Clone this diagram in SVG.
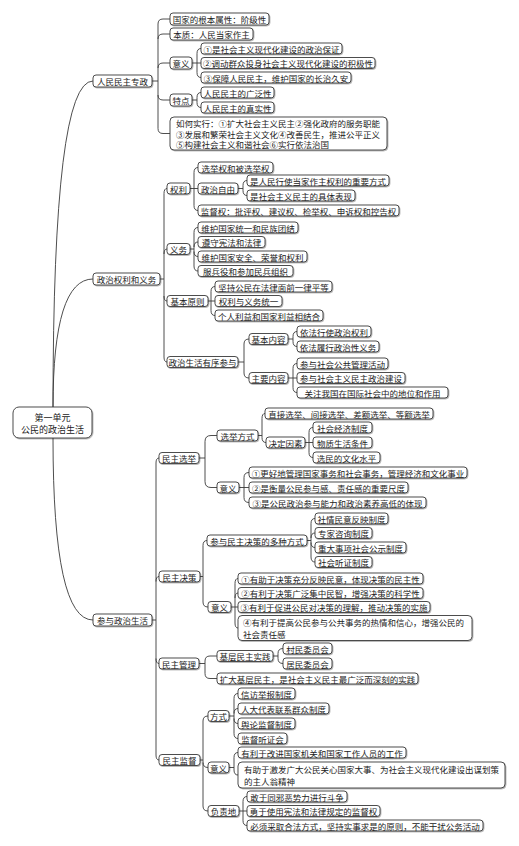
<svg xmlns="http://www.w3.org/2000/svg" width="519" height="846" viewBox="0 0 519 846">
<defs>
<filter id="sh" x="-5%" y="-20%" width="115%" height="160%"><feDropShadow dx="0.8" dy="0.8" stdDeviation="0.4" flood-color="#000" flood-opacity="0.35"/></filter>
<style>
.n rect{fill:#fff;stroke:#3a3a3a;stroke-width:0.9;filter:url(#sh)}
.n text{font-family:"Noto Sans CJK SC","Noto Sans",sans-serif;font-size:8.5px;fill:#222;text-anchor:middle;dominant-baseline:central}
.n text.l{text-anchor:start}
#links path{fill:none;stroke:#3a3a3a;stroke-width:0.9}
</style>
</defs>
<rect width="519" height="846" fill="#fff"/>
<g id="links">
<path d="M53,407 Q53,81 93,81 M53,407 Q53,279 93,279 M53,438 Q53,620 93,620"/>
<path d="M152,81 H158 M158,24 V128.5 M158,24 Q158,19 163,19 H170 M158,39 Q158,34 163,34 H170 M158,68 Q158,63 163,63 H170 M158,95 Q158,100 163,100 H170 M158,128.5 Q158,133.5 163,133.5 H170"/>
<path d="M192,63 H201 M197,53.5 V72.5 M197,53.5 Q197,48.5 201,48.5 M197,72.5 Q197,77.5 201,77.5"/>
<path d="M192,100 H197 M197,97.5 V102.5 M197,97.5 Q197,92.5 201,92.5 M197,102.5 Q197,107.5 201,107.5"/>
<path d="M160,279 H164 M164,193.5 V357 M164,193.5 Q164,188.5 167,188.5 M164,254 Q164,249 167,249 M164,296 Q164,301 167,301 M164,357 Q164,362 167,362"/>
<path d="M190,188.5 H198 M194,172.5 V205.5 M194,172.5 Q194,167.5 198,167.5 M194,205.5 Q194,210.5 198,210.5"/>
<path d="M238,188.5 H243 M243,185.5 V190.5 M243,185.5 Q243,180.5 247,180.5 M243,190.5 Q243,195.5 247,195.5"/>
<path d="M190,249 H194 M194,232.5 V266 M194,232.5 Q194,227.5 198,227.5 M194,247 Q194,242 198,242 M194,251.5 Q194,256.5 198,256.5 M194,266 Q194,271 198,271"/>
<path d="M208,301 H215 M211,291.5 V310.5 M211,291.5 Q211,286.5 215,286.5 M211,310.5 Q211,315.5 215,315.5"/>
<path d="M238,362 H244 M244,344 V373 M244,344 Q244,339 249,339 M244,373 Q244,378 249,378"/>
<path d="M288,339 H293 M293,336.5 V341.5 M293,336.5 Q293,331.5 297,331.5 M293,341.5 Q293,346.5 297,346.5"/>
<path d="M288,378 H297 M293,368.5 V387.5 M293,368.5 Q293,363.5 297,363.5 M293,387.5 Q293,392.5 297,392.5"/>
<path d="M152,620 H156 M156,463 V755 M156,463 Q156,458 159,458 M156,581.5 Q156,576.5 159,576.5 M156,658.5 Q156,663.5 159,663.5 M156,755 Q156,760 159,760"/>
<path d="M199,458 H205 M205,441.5 V481.5 M205,441.5 Q205,435.5 211,435.5 H217 M205,481.5 Q205,487.5 211,487.5 H217"/>
<path d="M258,435.5 H262 M262,418.5 V437.5 M262,418.5 Q262,413.5 265,413.5 M262,437.5 Q262,442.5 266,442.5"/>
<path d="M305,442.5 H313 M309,432.5 V452.5 M309,432.5 Q309,427.5 313,427.5 M309,452.5 Q309,457.5 313,457.5"/>
<path d="M239,487.5 H249 M244,477.5 V497.5 M244,477.5 Q244,472.5 249,472.5 M244,497.5 Q244,502.5 249,502.5"/>
<path d="M200,576.5 H203 M203,545.5 V602 M203,545.5 Q203,540.5 207,540.5 M203,602 Q203,607 208,607"/>
<path d="M307,540.5 H311 M311,523.5 V557 M311,523.5 Q311,518.5 315,518.5 M311,538 Q311,533 315,533 M311,542.5 Q311,547.5 315,547.5 M311,557 Q311,562 315,562"/>
<path d="M231,607 H238 M235,583.5 V623 M235,583.5 Q235,578.5 238,578.5 M235,598 Q235,593 238,593 M235,623 Q235,628 238,628"/>
<path d="M199,663.5 H205 M205,661 V673.5 M205,661 Q205,656 210,656 H217 M205,673.5 Q205,678.5 210,678.5 H217"/>
<path d="M273,656 H278 M278,653.5 V658.5 M278,653.5 Q278,648.5 283,648.5 M278,658.5 Q278,663.5 283,663.5"/>
<path d="M200,760 H203 M203,721 V806 M203,721 Q203,716 208,716 M203,762.5 Q203,767.5 208,767.5 M203,806 Q203,811 208,811"/>
<path d="M229,716 H234 M234,698.5 V733.5 M234,698.5 Q234,693.5 238,693.5 M234,713.5 Q234,708.5 238,708.5 M234,718.5 Q234,723.5 238,723.5 M234,733.5 Q234,738.5 238,738.5"/>
<path d="M229,767.5 H234 M234,757.5 V770 M234,757.5 Q234,752.5 238,752.5 M234,770 Q234,775 238,775"/>
<path d="M239,811 H247 M243,801.5 V820.5 M243,801.5 Q243,796.5 247,796.5 M243,820.5 Q243,825.5 247,825.5"/>
</g>
<g id="root" class="n"><rect x="13" y="407" width="79" height="31" rx="6"/><text x="52.5" y="417" style="font-size:9px">第一单元</text><text x="52.5" y="429" style="font-size:9px">公民的政治生活</text></g>
<g id="n1" class="n"><rect x="93" y="75" width="59" height="12" rx="3"/><text x="122.5" y="81">人民民主专政</text></g>
<g id="n1a" class="n"><rect x="170" y="13" width="99" height="12" rx="3"/><text x="219.5" y="19">国家的根本属性：阶级性</text></g>
<g id="n1b" class="n"><rect x="170" y="28" width="83" height="12" rx="3"/><text x="211.5" y="34">本质：人民当家作主</text></g>
<g id="n1c" class="n"><rect x="170" y="57" width="22" height="12" rx="3"/><text x="181" y="63">意义</text></g>
<g id="n1c1" class="n"><rect x="201" y="43" width="141" height="11" rx="3"/><text x="271.5" y="48.5">①是社会主义现代化建设的政治保证</text></g>
<g id="n1c2" class="n"><rect x="201" y="57.5" width="174" height="11" rx="3"/><text x="288" y="63">②调动群众投身社会主义现代化建设的积极性</text></g>
<g id="n1c3" class="n"><rect x="201" y="72" width="150" height="11" rx="3"/><text x="276" y="77.5">③保障人民民主，维护国家的长治久安</text></g>
<g id="n1d" class="n"><rect x="170" y="94" width="22" height="12" rx="3"/><text x="181" y="100">特点</text></g>
<g id="n1d1" class="n"><rect x="201" y="87" width="73" height="11" rx="3"/><text x="237.5" y="92.5">人民民主的广泛性</text></g>
<g id="n1d2" class="n"><rect x="201" y="102" width="73" height="11" rx="3"/><text x="237.5" y="107.5">人民民主的真实性</text></g>
<g id="n1e" class="n"><rect x="170" y="117" width="217" height="33" rx="4"/><text class="l" x="176" y="123">如何实行：①扩大社会主义民主②强化政府的服务职能</text><text class="l" x="176" y="133.5">③发展和繁荣社会主义文化④改善民生，推进公平正义</text><text class="l" x="176" y="144">⑤构建社会主义和谐社会⑥实行依法治国</text></g>
<g id="n2" class="n"><rect x="93" y="273" width="67" height="12" rx="3"/><text x="126.5" y="279">政治权利和义务</text></g>
<g id="n2a" class="n"><rect x="167" y="183" width="23" height="11" rx="3"/><text x="178.5" y="188.5">权利</text></g>
<g id="n2a1" class="n"><rect x="198" y="162" width="75" height="11" rx="3"/><text x="235.5" y="167.5">选举权和被选举权</text></g>
<g id="n2a2" class="n"><rect x="198" y="183" width="40" height="11" rx="3"/><text x="218" y="188.5">政治自由</text></g>
<g id="n2a2a" class="n"><rect x="247" y="175" width="142" height="11" rx="3"/><text x="318" y="180.5">是人民行使当家作主权利的重要方式</text></g>
<g id="n2a2b" class="n"><rect x="247" y="190" width="108" height="11" rx="3"/><text x="301" y="195.5">是社会主义民主的具体表现</text></g>
<g id="n2a3" class="n"><rect x="198" y="205" width="201" height="11" rx="3"/><text x="298.5" y="210.5">监督权：批评权、建议权、检举权、申诉权和控告权</text></g>
<g id="n2b" class="n"><rect x="167" y="243.5" width="23" height="11" rx="3"/><text x="178.5" y="249">义务</text></g>
<g id="n2b1" class="n"><rect x="198" y="222" width="100" height="11" rx="3"/><text x="248" y="227.5">维护国家统一和民族团结</text></g>
<g id="n2b2" class="n"><rect x="198" y="236.5" width="67" height="11" rx="3"/><text x="231.5" y="242">遵守宪法和法律</text></g>
<g id="n2b3" class="n"><rect x="198" y="251" width="109" height="11" rx="3"/><text x="252.5" y="256.5">维护国家安全、荣誉和权利</text></g>
<g id="n2b4" class="n"><rect x="198" y="265.5" width="95" height="11" rx="3"/><text x="245.5" y="271">服兵役和参加民兵组织</text></g>
<g id="n2c" class="n"><rect x="167" y="295.5" width="41" height="11" rx="3"/><text x="187.5" y="301">基本原则</text></g>
<g id="n2c1" class="n"><rect x="215" y="281" width="117" height="11" rx="3"/><text x="273.5" y="286.5">坚持公民在法律面前一律平等</text></g>
<g id="n2c2" class="n"><rect x="215" y="295.5" width="67" height="11" rx="3"/><text x="248.5" y="301">权利与义务统一</text></g>
<g id="n2c3" class="n"><rect x="215" y="310" width="108" height="11" rx="3"/><text x="269" y="315.5">个人利益和国家利益相结合</text></g>
<g id="n2d" class="n"><rect x="167" y="356.5" width="71" height="11" rx="3"/><text x="202.5" y="362">政治生活有序参与</text></g>
<g id="n2d1" class="n"><rect x="249" y="333.5" width="39" height="11" rx="3"/><text x="268.5" y="339">基本内容</text></g>
<g id="n2d1a" class="n"><rect x="297" y="326" width="74" height="11" rx="3"/><text x="334" y="331.5">依法行使政治权利</text></g>
<g id="n2d1b" class="n"><rect x="297" y="341" width="82" height="11" rx="3"/><text x="338" y="346.5">依法履行政治性义务</text></g>
<g id="n2d2" class="n"><rect x="249" y="372.5" width="39" height="11" rx="3"/><text x="268.5" y="378">主要内容</text></g>
<g id="n2d2a" class="n"><rect x="297" y="358" width="91" height="11" rx="3"/><text x="342.5" y="363.5">参与社会公共管理活动</text></g>
<g id="n2d2b" class="n"><rect x="297" y="372.5" width="108" height="11" rx="3"/><text x="351" y="378">参与社会主义民主政治建设</text></g>
<g id="n2d2c" class="n"><rect x="297" y="387" width="151" height="11" rx="3"/><text x="372.5" y="392.5">关注我国在国际社会中的地位和作用</text></g>
<g id="n3" class="n"><rect x="93" y="614" width="59" height="12" rx="3"/><text x="122.5" y="620">参与政治生活</text></g>
<g id="n3a" class="n"><rect x="159" y="452.5" width="40" height="11" rx="3"/><text x="179" y="458">民主选举</text></g>
<g id="n3a1" class="n"><rect x="217" y="430" width="41" height="11" rx="3"/><text x="237.5" y="435.5">选举方式</text></g>
<g id="n3a1a" class="n"><rect x="265" y="408" width="168" height="11" rx="3"/><text x="349" y="413.5">直接选举、间接选举、差额选举、等额选举</text></g>
<g id="n3a1b" class="n"><rect x="266" y="437" width="39" height="11" rx="3"/><text x="285.5" y="442.5">决定因素</text></g>
<g id="n3a1b1" class="n"><rect x="313" y="422" width="59" height="11" rx="3"/><text x="342.5" y="427.5">社会经济制度</text></g>
<g id="n3a1b2" class="n"><rect x="313" y="437" width="59" height="11" rx="3"/><text x="342.5" y="442.5">物质生活条件</text></g>
<g id="n3a1b3" class="n"><rect x="313" y="452" width="67" height="11" rx="3"/><text x="346.5" y="457.5">选民的文化水平</text></g>
<g id="n3a2" class="n"><rect x="217" y="482" width="22" height="11" rx="3"/><text x="228" y="487.5">意义</text></g>
<g id="n3a2a" class="n"><rect x="249" y="467" width="218" height="11" rx="3"/><text x="358" y="472.5">①更好地管理国家事务和社会事务，管理经济和文化事业</text></g>
<g id="n3a2b" class="n"><rect x="249" y="482" width="159" height="11" rx="3"/><text x="328.5" y="487.5">②是衡量公民参与感、责任感的重要尺度</text></g>
<g id="n3a2c" class="n"><rect x="249" y="497" width="177" height="11" rx="3"/><text x="337.5" y="502.5">③是公民政治参与能力和政治素养高低的体现</text></g>
<g id="n3b" class="n"><rect x="159" y="571" width="41" height="11" rx="3"/><text x="179.5" y="576.5">民主决策</text></g>
<g id="n3b1" class="n"><rect x="207" y="535" width="100" height="11" rx="3"/><text x="257" y="540.5">参与民主决策的多种方式</text></g>
<g id="n3b1a" class="n"><rect x="315" y="513" width="73" height="11" rx="3"/><text x="351.5" y="518.5">社情民意反映制度</text></g>
<g id="n3b1b" class="n"><rect x="315" y="527.5" width="57" height="11" rx="3"/><text x="343.5" y="533">专家咨询制度</text></g>
<g id="n3b1c" class="n"><rect x="315" y="542" width="91" height="11" rx="3"/><text x="360.5" y="547.5">重大事项社会公示制度</text></g>
<g id="n3b1d" class="n"><rect x="315" y="556.5" width="57" height="11" rx="3"/><text x="343.5" y="562">社会听证制度</text></g>
<g id="n3b2" class="n"><rect x="208" y="601.5" width="23" height="11" rx="3"/><text x="219.5" y="607">意义</text></g>
<g id="n3b2a" class="n"><rect x="238" y="573" width="185" height="11" rx="3"/><text x="330.5" y="578.5">①有助于决策充分反映民意，体现决策的民主性</text></g>
<g id="n3b2b" class="n"><rect x="238" y="587.5" width="185" height="11" rx="3"/><text x="330.5" y="593">②有利于决策广泛集中民智，增强决策的科学性</text></g>
<g id="n3b2c" class="n"><rect x="238" y="601.5" width="192" height="11" rx="3"/><text x="334" y="607">③有利于促进公民对决策的理解，推动决策的实施</text></g>
<g id="n3b2d" class="n"><rect x="238" y="615.5" width="234" height="25" rx="4"/><text class="l" x="243" y="622">④有利于提高公民参与公共事务的热情和信心，增强公民的</text><text class="l" x="243" y="634">社会责任感</text></g>
<g id="n3c" class="n"><rect x="159" y="658" width="40" height="11" rx="3"/><text x="179" y="663.5">民主管理</text></g>
<g id="n3c1" class="n"><rect x="217" y="650.5" width="56" height="11" rx="3"/><text x="245" y="656">基层民主实践</text></g>
<g id="n3c1a" class="n"><rect x="283" y="643" width="49" height="11" rx="3"/><text x="307.5" y="648.5">村民委员会</text></g>
<g id="n3c1b" class="n"><rect x="283" y="658" width="49" height="11" rx="3"/><text x="307.5" y="663.5">居民委员会</text></g>
<g id="n3c2" class="n"><rect x="217" y="673" width="201" height="11" rx="3"/><text x="317.5" y="678.5">扩大基层民主，是社会主义民主最广泛而深刻的实践</text></g>
<g id="n3d" class="n"><rect x="159" y="754.5" width="41" height="11" rx="3"/><text x="179.5" y="760">民主监督</text></g>
<g id="n3d1" class="n"><rect x="208" y="710.5" width="21" height="11" rx="3"/><text x="218.5" y="716">方式</text></g>
<g id="n3d1a" class="n"><rect x="238" y="688" width="57" height="11" rx="3"/><text x="266.5" y="693.5">信访举报制度</text></g>
<g id="n3d1b" class="n"><rect x="238" y="703" width="91" height="11" rx="3"/><text x="283.5" y="708.5">人大代表联系群众制度</text></g>
<g id="n3d1c" class="n"><rect x="238" y="718" width="57" height="11" rx="3"/><text x="266.5" y="723.5">舆论监督制度</text></g>
<g id="n3d1d" class="n"><rect x="238" y="733" width="49" height="11" rx="3"/><text x="262.5" y="738.5">监督听证会</text></g>
<g id="n3d2" class="n"><rect x="208" y="762" width="21" height="11" rx="3"/><text x="218.5" y="767.5">意义</text></g>
<g id="n3d2a" class="n"><rect x="238" y="747" width="168" height="11" rx="3"/><text x="322" y="752.5">有利于改进国家机关和国家工作人员的工作</text></g>
<g id="n3d2b" class="n"><rect x="238" y="762" width="267" height="26" rx="4"/><text class="l" x="244" y="769">有助于激发广大公民关心国家大事、为社会主义现代化建设出谋划策</text><text class="l" x="244" y="781">的主人翁精神</text></g>
<g id="n3d3" class="n"><rect x="208" y="805.5" width="31" height="11" rx="3"/><text x="223.5" y="811">负责地</text></g>
<g id="n3d3a" class="n"><rect x="247" y="791" width="100" height="11" rx="3"/><text x="297" y="796.5">敢于同邪恶势力进行斗争</text></g>
<g id="n3d3b" class="n"><rect x="247" y="805.5" width="133" height="11" rx="3"/><text x="313.5" y="811">勇于使用宪法和法律规定的监督权</text></g>
<g id="n3d3c" class="n"><rect x="247" y="820" width="236" height="11" rx="3"/><text x="365" y="825.5">必须采取合法方式，坚持实事求是的原则，不能干扰公务活动</text></g>
</svg>
